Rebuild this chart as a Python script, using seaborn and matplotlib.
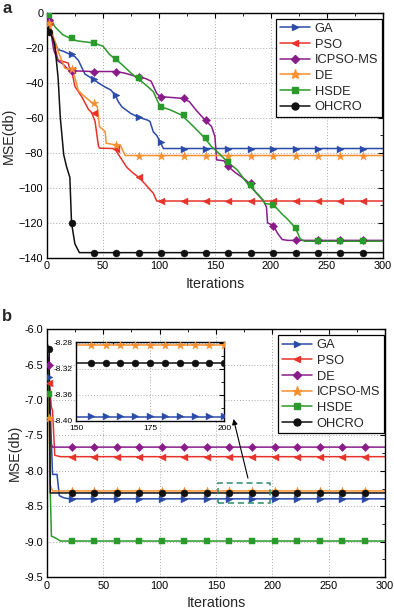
import numpy as np
import pandas as pd
import matplotlib
matplotlib.use("Agg")
import matplotlib.pyplot as plt
from matplotlib.lines import Line2D
from matplotlib.patches import Rectangle
from matplotlib.ticker import MultipleLocator, FormatStrFormatter
import seaborn as sns

# ======================
# data
# ======================

# ---- panel a ----
a_mark_it = list(range(2, 300, 20))

a_ga_it = [0, 2, 6, 10, 15, 20, 25, 28, 34, 41, 46, 52, 57, 61, 64, 67, 75, 81, 86, 90, 92, 95, 98, 101, 104, 300]
a_ga_mse = [0, -6, -15, -21, -22, -23.5, -25, -27, -35, -37.7, -40, -42.4, -44, -47, -51, -53.7, -57.5, -59.4,
            -60.5, -61.3, -62, -68, -70, -73.5, -77.5, -77.5]
a_ga_mk = [-6, -23.5, -37.5, -47, -59.5, -73.5, -77.5, -77.5, -77.5, -77.5, -77.5, -77.5, -77.5, -77.5, -77.5]

a_pso_it = [0, 2, 5, 8, 10, 19, 20, 22, 25, 31, 37, 40, 43, 46, 47, 59, 61, 65, 71, 76, 82, 88, 92, 95, 98, 300]
a_pso_mse = [0, -5, -15, -22, -27, -28.6, -31, -32.6, -42, -47.8, -55, -57, -62, -76, -77.3, -77.5, -78, -82,
             -88, -91, -94, -98, -101, -103, -107.5, -107.5]
a_pso_mk = [-5, -32.5, -57, -78, -94, -107.5, -107.5, -107.5, -107.5, -107.5, -107.5, -107.5, -107.5, -107.5, -107.5]

a_icp_it = [0, 2, 6, 10, 14, 20, 40, 62, 70, 80, 88, 93, 98, 101, 120, 127, 133, 141, 147, 150, 151.5, 158, 161,
            168.5, 177, 180, 187, 193, 196, 197, 202, 206, 210, 215, 300]
a_icp_mse = [0, -4, -21, -27.6, -29, -33, -33.5, -33.5, -34.5, -36.4, -37.5, -39, -46, -47.8, -48.8, -50.6, -55.4,
             -61.1, -64.9, -70.7, -84, -84.5, -87.4, -91.4, -95.2, -97, -103, -107, -111, -120, -121.5, -126,
             -129.5, -130, -130]
a_icp_mk = [-4, -33, -33.5, -33.5, -36.5, -47.8, -48.8, -61, -87.4, -97, -121.5, -129.5, -130, -130, -130]

a_de_it = [0, 2, 5, 10, 16, 22, 25, 28, 34, 41, 45, 47, 52, 53, 61, 66, 68, 70, 300]
a_de_mse = [0, -6, -12, -22, -31.6, -32.6, -36.8, -44.4, -48, -51.6, -53.5, -65, -67.8, -74.5, -75.4, -76, -79,
            -81.5, -81.5]
a_de_mk = [-6, -32, -51.5, -75.5, -81.5, -81.5, -81.5, -81.5, -81.5, -81.5, -81.5, -81.5, -81.5, -81.5, -81.5]

a_hs_it = [0, 2, 7, 14, 20, 27, 41, 50, 56, 61, 67, 75, 80, 88, 95, 101, 110, 120, 131, 141, 147, 152, 161, 170,
           180, 189, 195, 202, 210, 215, 222, 226, 230, 300]
a_hs_mse = [0, -1, -7.8, -12.4, -14.3, -16, -17.1, -19, -23.8, -26.3, -29.5, -34.3, -37.1, -41, -45, -53.5, -55.4,
            -58.3, -65, -71.6, -76.5, -79.3, -85, -89.8, -98.4, -104, -109, -109.5, -115, -118, -123, -129,
            -130.5, -130.5]
a_hs_mk = [-1, -14.3, -17.1, -26.3, -37.1, -53.5, -58.3, -71.6, -85, -98.4, -109.5, -123, -130.5, -130.5, -130.5]

a_oh_it = [0, 2, 5, 7, 10, 12, 15, 17.6, 20.5, 22, 25, 29, 300]
a_oh_mse = [-2, -11, -14, -18, -37, -60, -81, -88, -94, -120, -132, -137, -137]
a_oh_mk = [-11, -120, -137, -137, -137, -137, -137, -137, -137, -137, -137, -137, -137, -137, -137]

# ---- panel b ----
b_mark_it = list(range(2, 300, 20))

b_ga_it = [0, 2, 4, 5, 9, 11, 15, 20, 300]
b_ga_mse = [-6.25, -6.67, -7.6, -8.05, -8.05, -8.35, -8.38, -8.395, -8.395]
b_pso_it = [0, 2, 4, 5, 7, 12, 300]
b_pso_mse = [-6.4, -6.76, -7.1, -7.15, -7.78, -7.8, -7.8]
b_de_it = [0, 2, 3, 5, 300]
b_de_mse = [-6.3, -6.5, -7.6, -7.665, -7.665]
b_icp_it = [0, 2, 3, 5, 300]
b_icp_mse = [-6.8, -7.26, -8.2, -8.284, -8.284]
b_hs_it = [0, 2, 3, 4, 8, 12, 300]
b_hs_mse = [-6.4, -6.92, -8.3, -8.92, -8.95, -8.99, -8.99]
b_oh_it = [0, 2, 3, 300]
b_oh_mse = [-6.2, -6.28, -8.312, -8.312]

b_ga_mk = [-6.67] + [-8.395] * 14
b_pso_mk = [-6.76] + [-7.8] * 14
b_de_mk = [-6.5] + [-7.665] * 14
b_icp_mk = [-7.26] + [-8.284] * 14
b_hs_mk = [-6.92] + [-8.99] * 14
b_oh_mk = [-6.28] + [-8.312] * 14

# inset of panel b (zoom on 150..200)
inset_mark_it = [155, 160, 165, 170, 175, 180, 185, 190, 195, 200]
inset_ga_mk = [-8.393] * 10
inset_icp_mk = [-8.284] * 10
inset_oh_mk = [-8.312] * 10

# ======================
# styling
# ======================
sns.set_theme(style="white")
plt.rcParams['font.family'] = ['Liberation Sans', 'DejaVu Sans']
plt.rcParams['axes.edgecolor'] = 'black'
plt.rcParams['axes.linewidth'] = 1.0

# line styles: colour, marker, marker size
BLUE = ('#2b4ba8', '>', 5)
RED = ('#e8332a', '<', 5)
PURPLE = ('#8a1c8a', 'D', 4.2)
ORANGE = ('#f7902f', '*', 6.5)
GREEN = ('#2a9a2a', 's', 4.3)
BLACK = ('#111111', 'o', 5)


def draw(ax, sty, it, mse, mk_it, mk_val):
    col, mk, ms = sty
    sns.lineplot(x=it, y=mse, ax=ax, color=col, lw=1.1, estimator=None, sort=False, legend=False)
    sns.scatterplot(x=mk_it, y=mk_val, ax=ax, color=col, marker=mk, s=ms ** 2,
                    edgecolor=col, linewidth=0.3, legend=False, zorder=3)


def style_axes(ax, fs=7.8):
    ax.tick_params(which='both', direction='in', top=True, right=True, labelsize=fs, colors='black', pad=2.5)
    ax.tick_params(which='major', length=3.5, width=0.8)
    ax.tick_params(which='minor', length=2, width=0.6)
    ax.grid(True, which='major', ls=(0, (1, 2)), color='#a8a8a8', lw=0.7)
    for s in ax.spines.values():
        s.set_color('black')
        s.set_linewidth(1.0)


def legend(ax, entries):
    handles = [Line2D([], [], color=s[0], lw=1.1, marker=s[1], markersize=s[2], label=n) for n, s in entries]
    lg = ax.legend(handles=handles, loc='upper right', bbox_to_anchor=(0.997, 0.975), fontsize=9.3,
                   frameon=True, fancybox=False, edgecolor='black', framealpha=1, handlelength=2.3,
                   handletextpad=0.35, labelspacing=0.28, borderpad=0.3, borderaxespad=0)
    lg.get_frame().set_linewidth(0.9)


fig = plt.figure(figsize=(3.94, 6.14), dpi=100)

# ======================
# panel a
# ======================
ax1 = fig.add_axes([0.119, 0.580, 0.853, 0.399])
draw(ax1, BLUE, a_ga_it, a_ga_mse, a_mark_it, a_ga_mk)
draw(ax1, RED, a_pso_it, a_pso_mse, a_mark_it, a_pso_mk)
draw(ax1, PURPLE, a_icp_it, a_icp_mse, a_mark_it, a_icp_mk)
draw(ax1, ORANGE, a_de_it, a_de_mse, a_mark_it, a_de_mk)
draw(ax1, GREEN, a_hs_it, a_hs_mse, a_mark_it, a_hs_mk)
draw(ax1, BLACK, a_oh_it, a_oh_mse, a_mark_it, a_oh_mk)
ax1.set_xlim(0, 300)
ax1.set_ylim(-140, 0)
ax1.xaxis.set_major_locator(MultipleLocator(50))
ax1.xaxis.set_minor_locator(MultipleLocator(25))
ax1.yaxis.set_major_locator(MultipleLocator(20))
ax1.yaxis.set_minor_locator(MultipleLocator(10))
style_axes(ax1)
ax1.set_xlabel('Iterations', fontsize=10.3, labelpad=4)
ax1.set_ylabel('MSE(db)', fontsize=10.3, labelpad=2)
legend(ax1, [('GA', BLUE), ('PSO', RED), ('ICPSO-MS', PURPLE), ('DE', ORANGE),
             ('HSDE', GREEN), ('OHCRO', BLACK)])

# ======================
# panel b  (DE purple, ICPSO-MS orange here)
# ======================
ax2 = fig.add_axes([0.119, 0.060, 0.858, 0.404])
draw(ax2, BLUE, b_ga_it, b_ga_mse, b_mark_it, b_ga_mk)
draw(ax2, RED, b_pso_it, b_pso_mse, b_mark_it, b_pso_mk)
draw(ax2, PURPLE, b_de_it, b_de_mse, b_mark_it, b_de_mk)
draw(ax2, ORANGE, b_icp_it, b_icp_mse, b_mark_it, b_icp_mk)
draw(ax2, GREEN, b_hs_it, b_hs_mse, b_mark_it, b_hs_mk)
draw(ax2, BLACK, b_oh_it, b_oh_mse, b_mark_it, b_oh_mk)
ax2.set_xlim(0, 300)
ax2.set_ylim(-9.5, -6.0)
ax2.xaxis.set_major_locator(MultipleLocator(50))
ax2.xaxis.set_minor_locator(MultipleLocator(25))
ax2.yaxis.set_major_locator(MultipleLocator(0.5))
ax2.yaxis.set_minor_locator(MultipleLocator(0.25))
ax2.yaxis.set_major_formatter(FormatStrFormatter('%.1f'))
style_axes(ax2)
ax2.set_xlabel('Iterations', fontsize=10.3, labelpad=4)
ax2.set_ylabel('MSE(db)', fontsize=10.3, labelpad=2)
legend(ax2, [('GA', BLUE), ('PSO', RED), ('DE', PURPLE), ('ICPSO-MS', ORANGE),
             ('HSDE', GREEN), ('OHCRO', BLACK)])

# dashed zoom box and arrow
ax2.add_patch(Rectangle((152, -8.45), 46, 0.28, fill=False, ls=(0, (4, 2.5)), lw=1.1,
                        edgecolor='#2e8b6a', zorder=4))
ax2.annotate('', xy=(165, -7.23), xytext=(179, -8.14),
             arrowprops=dict(arrowstyle='-|>', color='black', lw=0.8, mutation_scale=8), zorder=5)

# inset
axi = fig.add_axes([0.193, 0.314, 0.376, 0.129])
draw(axi, ORANGE, b_icp_it, b_icp_mse, inset_mark_it, inset_icp_mk)
draw(axi, BLACK, b_oh_it, b_oh_mse, inset_mark_it, inset_oh_mk)
draw(axi, BLUE, b_ga_it, b_ga_mse, inset_mark_it, inset_ga_mk)
axi.set_xlim(150, 200)
axi.set_ylim(-8.401, -8.279)
axi.xaxis.set_major_locator(MultipleLocator(25))
axi.xaxis.set_minor_locator(MultipleLocator(12.5))
axi.yaxis.set_major_locator(MultipleLocator(0.04))
axi.yaxis.set_minor_locator(MultipleLocator(0.02))
axi.yaxis.set_major_formatter(FormatStrFormatter('%.2f'))
style_axes(axi, fs=6)
axi.set_facecolor('white')

# panel letters
fig.text(0.006, 0.998, 'a', fontsize=12, fontweight='bold', va='top', ha='left')
fig.text(0.006, 0.497, 'b', fontsize=12, fontweight='bold', va='top', ha='left')

fig.savefig('out.png', dpi=100)
